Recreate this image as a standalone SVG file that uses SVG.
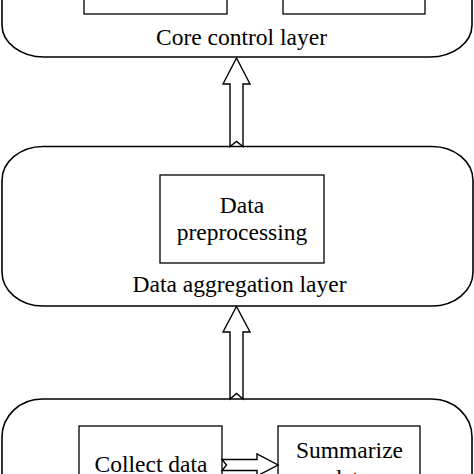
<svg xmlns="http://www.w3.org/2000/svg" width="474" height="474" viewBox="0 0 474 474">
<style>
.layer{fill:#fff;stroke:#000;stroke-width:1.6}
.box{fill:#fff;stroke:#000;stroke-width:1.3}
.arrow{fill:#fff;stroke:#000;stroke-width:1.4;stroke-linejoin:miter}
text{font-family:"Liberation Serif","Times New Roman",serif;font-size:23.5px;fill:#000;text-anchor:middle}
</style>
<rect width="474" height="474" fill="#fff"/>
<g id="core-layer">
<rect class="layer" x="2" y="-120" width="470" height="177" rx="42" ry="32"/>
<rect class="box" x="84" y="-60" width="143" height="74"/>
<rect class="box" x="283" y="-60" width="142" height="74"/>
<text x="241.5" y="44.5">Core control layer</text>
</g>
<g id="aggregation-layer">
<rect class="layer" x="2" y="146.5" width="471" height="159.5" rx="41" ry="34"/>
</g>
<g id="data-preprocessing">
<rect class="box" x="160" y="175" width="164" height="88"/>
<text x="242" y="212.5">Data</text>
<text x="242" y="240">preprocessing</text>
</g>
<text x="239.5" y="291.5">Data aggregation layer</text>
<g id="collection-layer">
<rect class="layer" x="2" y="399" width="470" height="200" rx="40" ry="38"/>
</g>
<g id="collect-data">
<rect class="box" x="79" y="426" width="143" height="90"/>
<text x="151" y="472">Collect data</text>
</g>
<g id="summarize-data">
<rect class="box" x="278" y="426" width="142" height="90"/>
<text x="349.5" y="458">Summarize</text>
<text x="349.5" y="486">data</text>
</g>
<g id="connectors">
<polygon class="arrow" points="230,146.5 230,84 223,84 236.5,58 250,84 243,84 243,146.5 236.5,141.5"/>
<polygon class="arrow" points="230,399 230,332 223,332 236.5,306.5 250,332 243,332 243,399 236.5,393.5"/>
<polygon class="arrow" points="222,459.5 257,459.5 257,454 278,465 257,476 257,470.5 222,470.5 226.5,465"/>
</g>
</svg>
